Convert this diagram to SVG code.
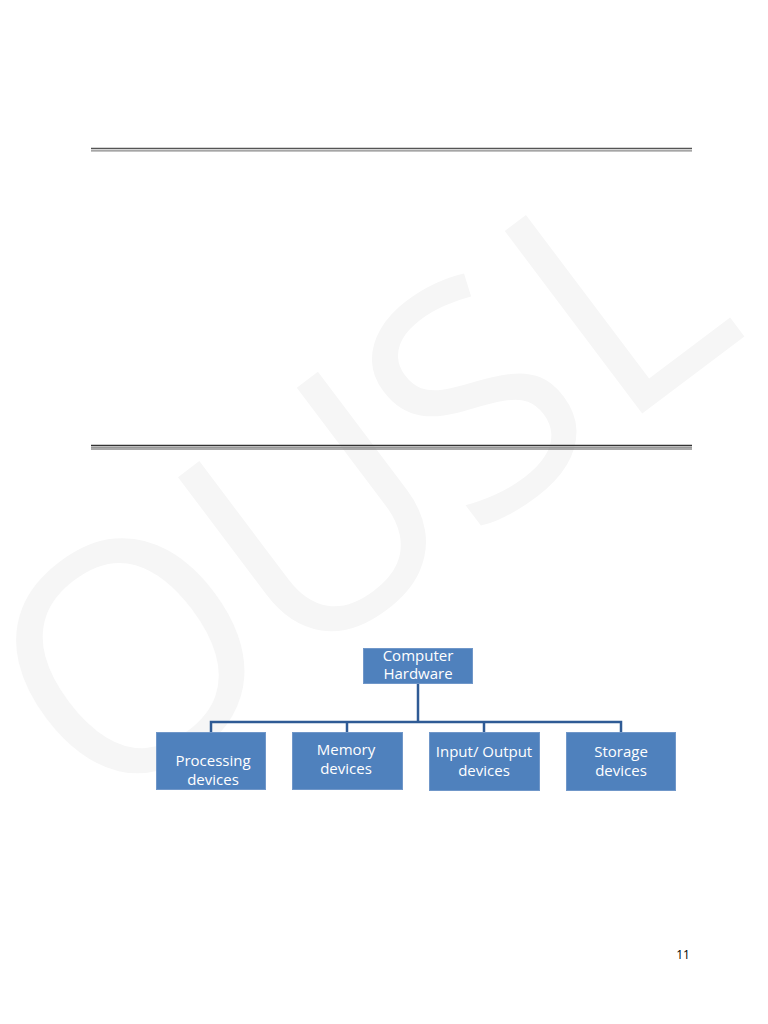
<svg xmlns="http://www.w3.org/2000/svg" width="768" height="1024" viewBox="0 0 768 1024">
<style>
.box{fill:#4f81bd;stroke:#7097c9;stroke-width:1}
.lbl{font-family:"Open Sans","Liberation Sans",sans-serif;font-size:15px;fill:#ffffff;text-anchor:middle}
.con{stroke:#2f5b95;fill:none;stroke-width:2.5}
.wm{font-family:"Open Sans","Liberation Sans",sans-serif;font-size:320px;fill:#f6f6f6;letter-spacing:-8px}
</style>
<rect width="768" height="1024" fill="#ffffff"/>
<text class="wm" transform="translate(100,822) rotate(-37)">OUS<tspan dx="14">L</tspan></text>
<g id="rules">
<line x1="91" y1="148.5" x2="692" y2="148.5" stroke="#555" stroke-width="1.5"/>
<line x1="91" y1="150.8" x2="692" y2="150.8" stroke="#888" stroke-width="1.2"/>
<line x1="91" y1="445.5" x2="692" y2="445.5" stroke="#333" stroke-width="1.3"/>
<line x1="91" y1="447.3" x2="692" y2="447.3" stroke="#999" stroke-width="1.2"/>
<line x1="91" y1="449" x2="692" y2="449" stroke="#555" stroke-width="1"/>
</g>
<g id="connectors">
<line class="con" x1="418" y1="684" x2="418" y2="722"/>
<polyline class="con" stroke-width="2" points="211,732 211,722 621,722 621,732"/>
<line class="con" stroke-width="2" x1="347" y1="722" x2="347" y2="732"/>
<line class="con" stroke-width="2" x1="484" y1="722" x2="484" y2="732"/>
</g>
<g id="computer-hardware">
<rect class="box" x="363.5" y="648.5" width="109" height="35"/>
<text class="lbl" x="418" y="661">Computer</text>
<text class="lbl" x="418" y="679">Hardware</text>
</g>
<g id="processing-devices">
<rect class="box" x="156.5" y="732.5" width="109" height="57"/>
<text class="lbl" x="213" y="766">Processing</text>
<text class="lbl" x="213" y="785">devices</text>
</g>
<g id="memory-devices">
<rect class="box" x="292.5" y="732.5" width="110" height="57"/>
<text class="lbl" x="346" y="755">Memory</text>
<text class="lbl" x="346" y="774">devices</text>
</g>
<g id="io-devices">
<rect class="box" x="429.5" y="732.5" width="110" height="58"/>
<text class="lbl" x="484" y="757">Input/ Output</text>
<text class="lbl" x="484" y="776">devices</text>
</g>
<g id="storage-devices">
<rect class="box" x="566.5" y="732.5" width="109" height="58"/>
<text class="lbl" x="621" y="757">Storage</text>
<text class="lbl" x="621" y="776">devices</text>
</g>
<text x="683" y="959" font-family="Open Sans,Liberation Sans,sans-serif" font-size="12" fill="#000" text-anchor="middle">11</text>
</svg>
